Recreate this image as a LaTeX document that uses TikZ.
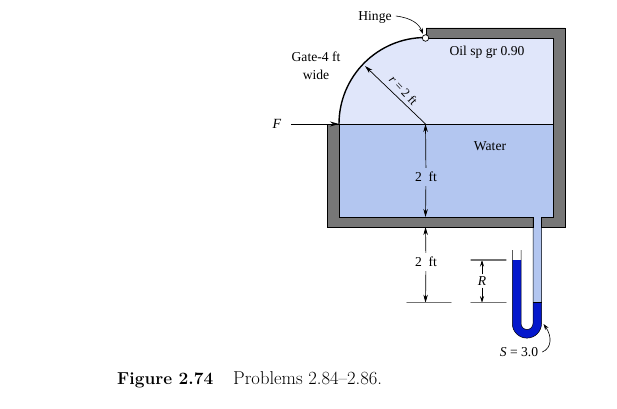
\documentclass[tikz,border=0pt]{standalone}
\usepackage{amssymb}
\usepackage{amsmath}
\usepackage{fontspec}
\usepackage{pgf,tikz}
\usepackage{tkz-euclide}
\usepackage{xcolor}
\usetikzlibrary{arrows.meta}
\usetikzlibrary{arrows, calc}
\newfontfamily\figfont{Liberation Serif}
\definecolor{wallgray}{HTML}{777777}
\definecolor{oilblue}{HTML}{E0E6FA}
\definecolor{waterblue}{HTML}{B3C6F0}
\definecolor{gagedark}{HTML}{0518CC}
\tikzset{
    figlabel/.style={font=\figfont\fontsize{13.6}{14}\selectfont, inner sep=1pt},
    dimlabel/.style={figlabel, inner sep=4pt},
    dimline/.style={line width=0.7pt, -{Stealth[length=8pt,width=4.5pt]}},
    smallline/.style={line width=0.7pt, -{Stealth[length=6.5pt,width=4pt]}},
    reflevel/.style={line width=1.1pt, color=black!55}
}

\begin{document}
\begin{tikzpicture}[x=1pt,y=1pt]
        \useasboundingbox (0,0) rectangle (617,408);

        \tkzDefPoint(425.5,284){C}
        \tkzDefPoint(339,284){G_0}
        \tkzDefPoint(425.5,370){H}
        \tkzDefPoint(553,284){W_1}
        \tkzDefPoint(425.5,191){B_0}
        \tkzDefPoint(425.5,181){B_1}
        \tkzDefPoint(425.5,105.3){L_0}
        \tkzDefPoint(407,105.3){L_1}
        \tkzDefPoint(451,105.3){L_2}
        \tkzDefPoint(471,148){R_0}
        \tkzDefPoint(506,148){R_1}
        \tkzDefPoint(471,105.3){R_2}
        \tkzDefPoint(506,105.3){R_3}
        \tkzDefPoint(482,148){R_4}
        \tkzDefPoint(482,105.3){R_5}
        \tkzDefPoint(291,284){F_0}
        \tkzDefPoint(365,342){A_0}
        \tkzDefPoint(423,374){J_1}
        \tkzDefPoint(543.5,84){S_1}

        % fluids
        \fill[oilblue] (339,284) arc (180:90:86.5) -- (553,369.5) -- (553,284) -- cycle;
        \fill[waterblue] (339,191) rectangle (553,284);
        \fill[waterblue] (533,105.3) rectangle (541.5,192);

        % tank wall
        \filldraw[wallgray, draw=black, line width=0.5pt] (426,380) -- (565,380) -- (565,181) -- (541.5,181) -- (541.5,191) -- (553,191)
            -- (553,369.5) -- (426,369.5) -- cycle;
        \filldraw[wallgray, draw=black, line width=0.5pt] (533,181) -- (327,181) -- (327,284) -- (339,284) -- (339,191) -- (533,191) -- cycle;

        % gage
        \fill[gagedark] (512.3,148) -- (512.3,84.5) arc (180:360:14.6) -- (541.5,105.3) -- (533,105.3) -- (533,84.5) arc (360:180:6) -- (521,148) -- cycle;
        \draw[line width=0.5pt] (533,105.3) -- (541.5,105.3);
        \draw[line width=0.5pt] (512.3,158) -- (512.3,84.5) arc (180:360:14.6) -- (541.5,191);
        \draw[line width=0.5pt] (521,158) -- (521,84.5) arc (180:360:6) -- (533,191);

        % water surface and gate
        \tkzDrawSegments[line width=0.9pt](G_0,W_1)
        \draw[line width=1.4pt] (G_0) arc (180:90:86.5);
        \draw[dimline] (C) -- (A_0);
        \draw[line width=1pt, -{Stealth[length=9pt,width=5pt]}] (F_0) -- (G_0);
        \node[circle, draw, fill=white, line width=0.7pt, minimum size=6.5pt, inner sep=0pt] (hinge) at (H) {};

        \node[figlabel] (hingelabel) at (375,391) {Hinge};
        \node[figlabel] (gatelabel) at (316,351) {Gate-4 ft};
        \node[figlabel] (widelabel) at (316,333) {wide};
        \node[figlabel] (oillabel) at (487,356) {Oil sp gr 0.90};
        \node[figlabel] (waterlabel) at (490,262) {Water};
        \node[figlabel, font=\figfont\fontsize{14}{14}\selectfont] (forcelabel) at (277,284) {\textit{F}};
        \node[figlabel, font=\figfont\fontsize{12.5}{14}\selectfont, rotate=-47] (radiuslabel) at (403.5,317.5) {\textit{r} = 2 ft};
        \node[dimlabel] (upperdim) at (426,231) {2\ \ ft};
        \node[dimlabel] (lowerdim) at (426,146) {2\ \ ft};
        \node[figlabel, inner sep=2pt] (rlabel) at (482,127) {\textit{R}};
        \node[figlabel] (slabel) at (519,56) {\textit{S} = 3.0};
        \node[anchor=base west, inner sep=0pt] (captionhead) at (117,24)
            {\fontsize{17.3}{18}\selectfont\textbf{Figure 2.74}};
        \node[anchor=base west, inner sep=0pt] (captiontext) at (233,24)
            {\fontsize{18.6}{20}\selectfont Problems 2.84--2.86.};

        \draw[line width=0.6pt, -{Stealth[length=6pt,width=4pt]}] (hingelabel.east) ++(3,1) .. controls (412,390) and (419,384) .. (J_1);
        \draw[line width=0.6pt, -{Stealth[length=6pt,width=4pt]}] (slabel.east) ++(3,0) .. controls (552,60) and (552,72) .. (S_1);

        \draw[dimline] (upperdim) -- (C);
        \draw[dimline] (upperdim) -- (B_0);
        \draw[dimline] (lowerdim) -- (B_1);
        \draw[dimline] (lowerdim) -- (L_0);
        \draw[smallline] (rlabel) -- (R_4);
        \draw[smallline] (rlabel) -- (R_5);

        \tkzDrawSegments[reflevel](L_1,L_2 R_0,R_1 R_2,R_3)
    \end{tikzpicture}
\end{document}
